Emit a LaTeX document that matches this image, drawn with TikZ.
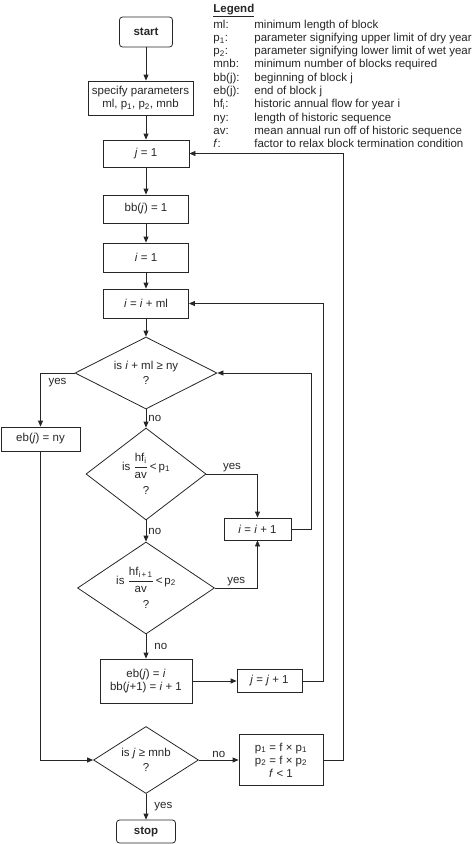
\documentclass[tikz,border=0pt]{standalone}
\usepackage{amsmath}
\usepackage{fontspec}
\setmainfont{Liberation Sans}
\usetikzlibrary{positioning,shapes.geometric,arrows.meta}

\begin{document}
\begin{tikzpicture}[x=1pt,y=-1pt,>={Triangle[length=6pt,width=5pt]},
  line width=0.8pt,color=black!85,
  font=\fontsize{11.5}{13}\selectfont,
  box/.style={draw,rectangle,align=center,inner sep=1pt},
  term/.style={draw,rounded corners=3pt,font=\fontsize{11.5}{13}\selectfont\bfseries},
  test/.style={draw,diamond,align=center,inner sep=-6pt,shape aspect=1.3},
  lbl/.style={inner sep=2pt}]
\useasboundingbox (0,0) rectangle (474,844);

\node[anchor=base west,inner sep=0pt,font=\fontsize{11.5}{13}\selectfont\bfseries] (leg) at (213,12) {\underline{Legend}};
\foreach \k/\v [count=\n from 0] in {ml:/minimum length of block,
    p\textsubscript{1}:/parameter signifying upper limit of dry year,
    p\textsubscript{2}:/parameter signifying lower limit of wet year,
    mnb:/minimum number of blocks required,
    bb(j):/beginning of block j,
    eb(j):/end of block j,
    hf\textsubscript{i}:/historic annual flow for year i,
    ny:/length of historic sequence,
    av:/mean annual run off of historic sequence,
    \textit{f}:/factor to relax block termination condition} {
  \node[anchor=base west,inner sep=0pt] (lk\n) at (213,28+13.3*\n) {\k};
  \node[anchor=base west,inner sep=0pt] (lv\n) at (254,28+13.3*\n) {\v};
}

\node[term,minimum width=53pt,minimum height=30pt] (start) at (146,32) {start};
\node[box,minimum width=105pt,minimum height=34pt] (spec) at (140.5,98) {specify parameters\\ml, p\textsubscript{1}, p\textsubscript{2}, mnb};
\node[box,minimum width=86pt,minimum height=27pt] (j1) at (146,153.5) {\textit{j} = 1};
\node[box,minimum width=85pt,minimum height=28pt] (bb1) at (146,209) {bb(\textit{j}) = 1};
\node[box,minimum width=85pt,minimum height=29pt] (i1) at (146,257.5) {\textit{i} = 1};
\node[box,minimum width=85pt,minimum height=29pt] (iml) at (146,303.5) {\textit{i} = \textit{i} + ml};
\node[test,minimum width=142pt,minimum height=72pt] (d1) at (146,373) {is \textit{i} + ml ≥ ny\\[2pt]?};
\node[box,minimum width=79pt,minimum height=24pt] (ebny) at (40.5,439) {eb(\textit{j}) = ny};
\node[test,minimum width=120pt,minimum height=92pt] (d2) at (146,474) {is~$\dfrac{\text{hf\textsubscript{i}}}{\text{av}}$\,<\,p\textsubscript{1}\\[7pt]?};
\node[box,minimum width=67pt,minimum height=22pt] (ii1) at (257.5,529) {\textit{i} = \textit{i} + 1};
\node[test,minimum width=137pt,minimum height=92pt] (d3) at (146,588) {is~$\dfrac{\text{hf\textsubscript{i\,+\,1}}}{\text{av}}$\,<\,p\textsubscript{2}\\[7pt]?};
\node[box,minimum width=92pt,minimum height=44pt] (ebi) at (146,681) {eb(\textit{j}) = \textit{i}\\bb(\textit{j}+1) = \textit{i} + 1};
\node[box,minimum width=65pt,minimum height=23pt] (jj1) at (269.5,681) {\textit{j} = \textit{j} + 1};
\node[test,minimum width=105pt,minimum height=67pt] (d4) at (146,760) {is \textit{j} ≥ mnb\\[2pt]?};
\node[box,minimum width=84pt,minimum height=51pt] (pset) at (281,760) {p\textsubscript{1} = f × p\textsubscript{1}\\p\textsubscript{2} = f × p\textsubscript{2}\\\textit{f} < 1};
\node[term,minimum width=59pt,minimum height=23pt] (stop) at (146,831.5) {stop};

\coordinate (r1) at (311,373);
\coordinate (r2) at (323,303.5);
\coordinate (r3) at (343,153.5);

\draw[->] (start) -- (start |- spec.north);
\draw[->] (start |- spec.south) -- (j1);
\draw[->] (j1) -- (bb1);
\draw[->] (bb1) -- (i1);
\draw[->] (i1) -- (iml);
\draw[->] (iml) -- (d1);
\draw[->] (d1.west) -| node[lbl,pos=0.25,below,yshift=-3pt] (yes1) {yes} (ebny);
\draw[->] (d1) -- node[lbl,right] (no1) {no} (d2);
\draw[->] (d2.east) -| node[lbl,pos=0.25,above] (yes2) {yes} (ii1);
\draw[->] (d2) -- node[lbl,right] (no2) {no} (d3);
\draw[->] (d3.east) -| node[lbl,pos=0.25,above] (yes3) {yes} (ii1);
\draw[->] (d3) -- node[lbl,right,xshift=6pt] (no3) {no} (ebi);
\draw[->] (ii1.east) -| (r1) -- (d1.east);
\draw[->] (ebi) -- (jj1);
\draw[->] (jj1.east) -| (r2) -- (iml.east);
\draw[->] (ebny) |- (d4.west);
\draw[->] (d4) -- node[lbl,above] (no4) {no} (pset);
\draw[->] (pset.east) -| (r3) -- (j1.east);
\draw[->] (d4) -- node[lbl,right,xshift=6pt] (yes4) {yes} (stop);
\end{tikzpicture}
\end{document}
